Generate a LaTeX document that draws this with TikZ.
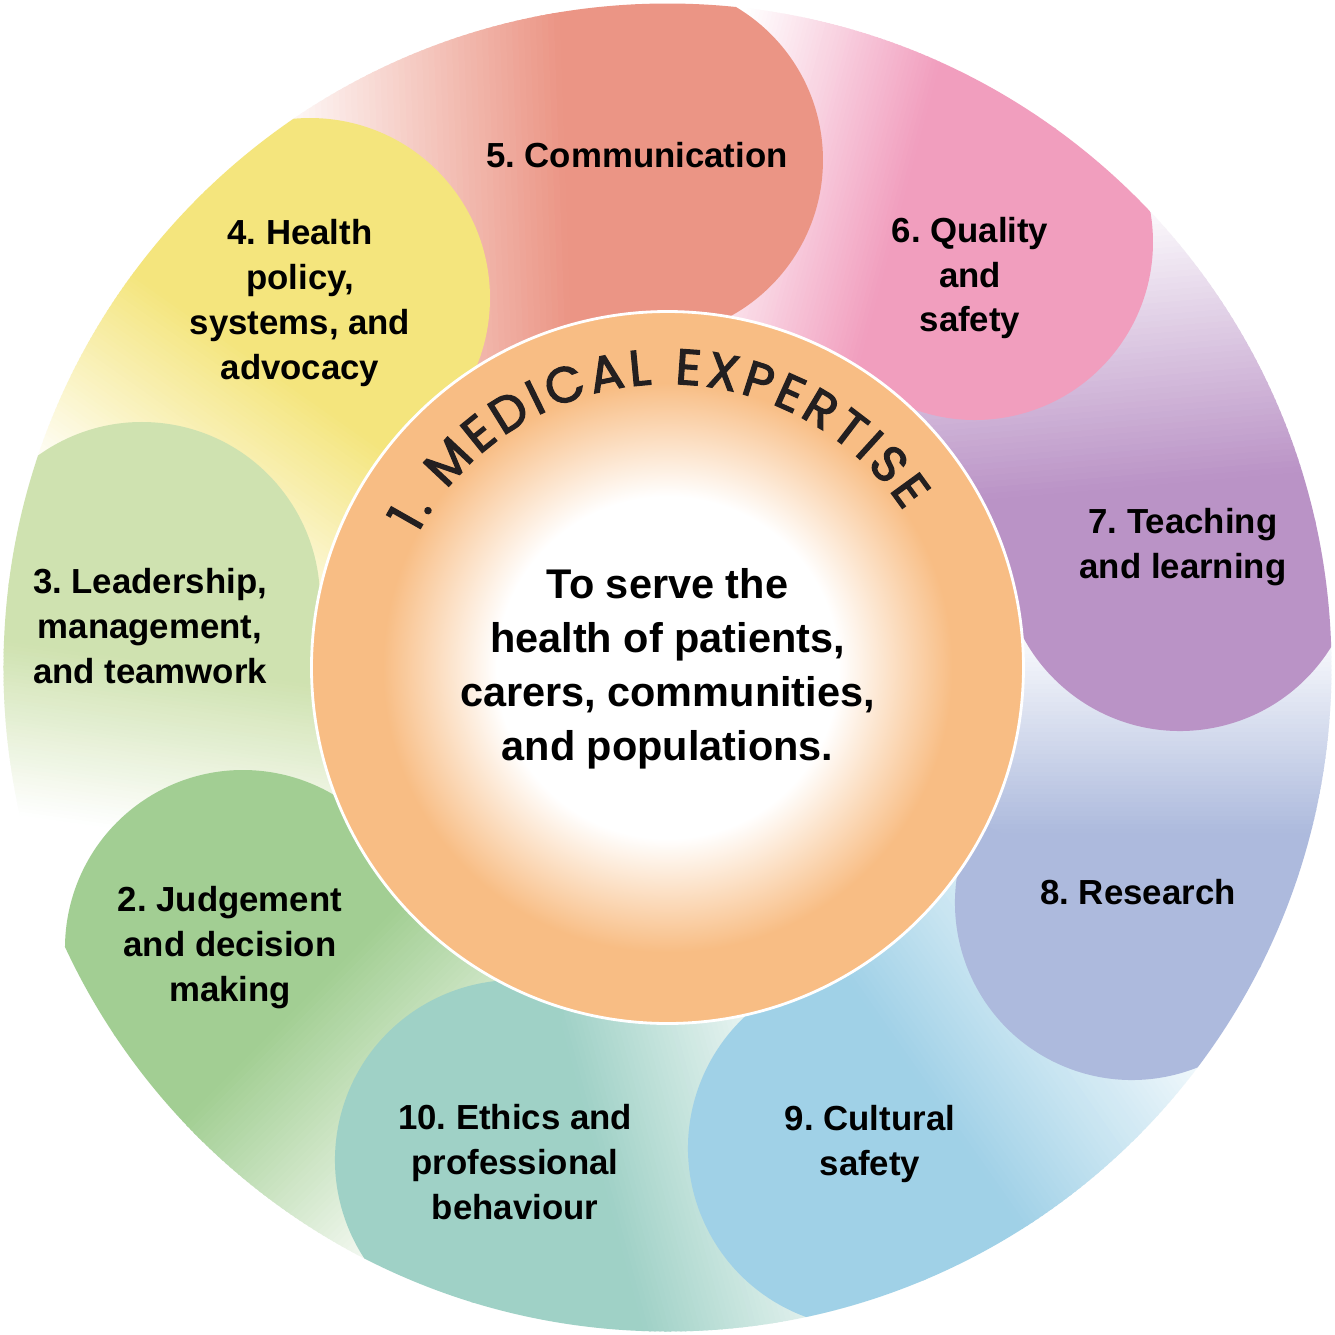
\documentclass[tikz,border=0pt]{standalone}
\usepackage{fontspec}
\usetikzlibrary{decorations.text}
\setmainfont{Liberation Sans}
\newfontfamily\titlefont{Poppins}[FakeBold=2.6]
\definecolor{cfive}{HTML}{EB9585}
\definecolor{csix}{HTML}{F19EBE}
\definecolor{cseven}{HTML}{BA93C6}
\definecolor{ceight}{HTML}{ADBADD}
\definecolor{cnine}{HTML}{A0D1E7}
\definecolor{cten}{HTML}{9FD1C6}
\definecolor{ctwo}{HTML}{A2CE93}
\definecolor{cthree}{HTML}{CFE2B0}
\definecolor{cfour}{HTML}{F4E57D}
\definecolor{corange}{HTML}{F8BD84}
\definecolor{ctitle}{HTML}{231F20}
\pgfdeclareradialshading{discshade}{\pgfpoint{0bp}{0bp}}{color(0bp)=(white); color(12bp)=(white); color(20bp)=(corange); color(25bp)=(corange); color(50bp)=(corange)}
% tail: color, hx, hy, start angle, end angle, fade direction, solid end, white start
\newcommand\petaltail[8]{%
  \begin{scope}
    \clip (0,0) -- (#4:7.5) arc[start angle=#4, end angle=#5, radius=7.5] -- cycle;
    \begin{scope}[shift={(#2,#3)}, rotate=#6-90]
      \fill[#1] (-14,-14) -- (14,-14) -- (14,#7+0.01) -- (-14,#7+0.01) -- cycle;
      \foreach \i in {0,...,47} {
        \pgfmathsetmacro\ya{#7+(#8-#7)*\i/48}
        \pgfmathsetmacro\yb{#7+(#8-#7)*(\i+1.4)/48}
        \pgfmathsetmacro\pc{100*(1-(\i+0.5)/48)}
        \fill[#1!\pc!white] (-14,\ya) -- (14,\ya) -- (14,\yb) -- (-14,\yb) -- cycle;
      }
      \fill[white] (-14,#8) -- (14,#8) -- (14,14) -- (-14,14) -- cycle;
    \end{scope}
  \end{scope}}
% head: color, hx, hy, radial angle, radius
\newcommand\petalhead[5]{%
  \begin{scope}[shift={(#2,#3)}, rotate=#4]
    \clip (-3,-3) -- (3,-3) -- (3,0.03) -- (-3,0.03) -- cycle;
    \fill[#1] (0,0) circle (#5);
  \end{scope}}
\tikzset{
  lbl/.style={font=\fontsize{9.9}{12.8}\selectfont\bfseries\frenchspacing, align=center, text=black, inner sep=0pt},
  ctr/.style={font=\fontsize{11.8}{15.4}\selectfont\bfseries\frenchspacing, align=center, text=black, inner sep=0pt}
}
\begin{document}
\begin{tikzpicture}
\useasboundingbox (-6.675,-6.675) rectangle (6.675,6.675);
\fill[white] (-6.675,-6.675) rectangle (6.675,6.675);
\begin{scope}
  \clip (0,0) circle (6.64);
  \petaltail{cfive}{-0.225}{5.075}{92.54}{134.05}{182}{0.8}{3.7}
  \petaltail{csix}{3.075}{4.255}{54.14}{92.54}{165}{0.8}{2.8}
  \petaltail{cseven}{5.125}{1.145}{12.59}{54.14}{95}{0.7}{3.6}
  \petaltail{ceight}{4.645}{-2.355}{-26.89}{12.59}{90}{0.7}{2.8}
  \petaltail{cnine}{2.005}{-4.805}{-67.35}{-26.89}{35}{0.8}{3.6}
  \petaltail{cten}{-1.525}{-4.925}{-107.2}{-67.35}{15}{0.8}{3.2}
  \petaltail{ctwo}{-4.245}{-2.805}{-146.54}{-107.2}{-45}{0.8}{3.4}
  \petaltail{cthree}{-5.255}{0.675}{172.68}{213.46}{262}{0.6}{2.3}
  \petaltail{cfour}{-3.575}{3.695}{134.05}{172.68}{235}{0.8}{3.0}
  \petalhead{cfive}{-0.225}{5.075}{92.54}{1.78}
  \petalhead{csix}{3.075}{4.255}{54.14}{1.78}
  \petalhead{cseven}{5.125}{1.145}{12.59}{1.78}
  \petalhead{ceight}{4.645}{-2.355}{-26.89}{1.77}
  \petalhead{cnine}{2.005}{-4.805}{-67.35}{1.80}
  \petalhead{cten}{-1.525}{-4.925}{-107.2}{1.80}
  \petalhead{ctwo}{-4.245}{-2.805}{-146.54}{1.78}
  \petalhead{cthree}{-5.255}{0.675}{172.68}{1.78}
  \petalhead{cfour}{-3.575}{3.695}{134.05}{1.80}
\end{scope}
% central disc
\shade[shading=discshade] (0,0) circle (3.56);
\draw[white, line width=0.8pt] (0,0) circle (3.56);
% curved title
\path[decorate, decoration={text along path, text align={fit to path},
  text={|\titlefont\fontsize{14.2}{16}\selectfont\color{ctitle}|1. MEDICAL EXPERTISE}}]
  (152:2.835) arc[start angle=152, end angle=33.5, radius=2.835];
% labels
\node[lbl] (l5) at (-0.305,5.125) {5. Communication};
\node[lbl] (l6) at (3.025,3.895) {6. Quality\\and\\safety};
\node[lbl] (l7) at (5.155,1.205) {7. Teaching\\and learning};
\node[lbl] (l8) at (4.705,-2.245) {8. Research};
\node[lbl] (l9) at (2.025,-4.765) {9. Cultural\\safety};
\node[lbl] (l10) at (-1.525,-4.945) {10. Ethics and\\professional\\behaviour};
\node[lbl] (l2) at (-4.375,-2.805) {2. Judgement\\and decision\\making};
\node[lbl] (l3) at (-5.175,0.415) {3. Leadership,\\management,\\and teamwork};
\node[lbl] (l4) at (-3.675,3.645) {4. Health\\policy,\\systems, and\\advocacy};
\node[ctr] (mission) at (0,-0.015) {To serve the\\health of patients,\\carers, communities,\\and populations.};
\end{tikzpicture}
\end{document}
